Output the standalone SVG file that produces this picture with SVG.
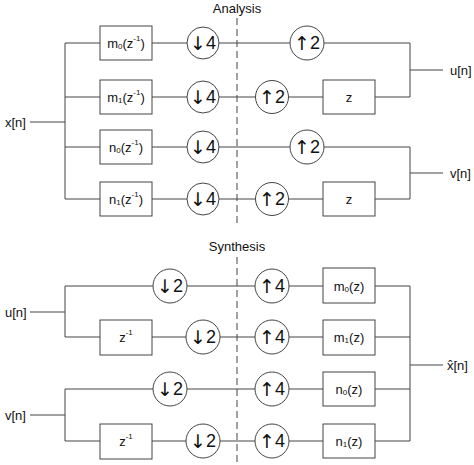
<svg xmlns="http://www.w3.org/2000/svg" width="474" height="465" viewBox="0 0 474 465">
<style>
.ln{stroke:#444;stroke-width:1;fill:none}
.dash{stroke:#444;stroke-width:1;fill:none;stroke-dasharray:7,4}
.box{stroke:#444;stroke-width:1;fill:#fff}
.cir{stroke:#444;stroke-width:1;fill:#fff}
text{font-family:"Liberation Sans","DejaVu Sans",Arial,sans-serif;fill:#111}
.lab{font-size:13px;text-anchor:middle;dominant-baseline:central}
.op{font-size:18px;text-anchor:middle;dominant-baseline:central}
.ar{font-family:"DejaVu Sans",sans-serif;font-size:19px}
.io{font-size:13px;dominant-baseline:central}
.ttl{font-size:13px;text-anchor:middle}
.s{font-size:8px}
</style>
<rect width="474" height="465" fill="#fff"/>
<g id="connectors">
<line class="dash" x1="237" y1="18" x2="237" y2="224"/>
<line class="ln" x1="30" y1="122" x2="65" y2="122"/>
<line class="ln" x1="65" y1="43" x2="65" y2="199"/>
<polyline class="ln" points="65,43 100,43"/>
<polyline class="ln" points="65,97 100,97"/>
<polyline class="ln" points="65,147 100,147"/>
<polyline class="ln" points="65,199 100,199"/>
<line class="ln" x1="152" y1="43" x2="187" y2="43"/>
<line class="ln" x1="152" y1="97" x2="187" y2="97"/>
<line class="ln" x1="152" y1="147" x2="187" y2="147"/>
<line class="ln" x1="152" y1="199" x2="187" y2="199"/>
<line class="ln" x1="219" y1="43" x2="290" y2="43"/>
<line class="ln" x1="219" y1="97" x2="255" y2="97"/>
<line class="ln" x1="219" y1="147" x2="290" y2="147"/>
<line class="ln" x1="219" y1="199" x2="255" y2="199"/>
<line class="ln" x1="288" y1="97" x2="323" y2="97"/>
<line class="ln" x1="288" y1="199" x2="323" y2="199"/>
<polyline class="ln" points="324,43 410,43 410,97 375,97"/>
<polyline class="ln" points="324,147 410,147 410,199 375,199"/>
<line class="ln" x1="410" y1="70" x2="443" y2="70"/>
<line class="ln" x1="410" y1="173" x2="443" y2="173"/>
<line class="dash" x1="237" y1="257" x2="237" y2="465"/>
<line class="ln" x1="30" y1="312" x2="65" y2="312"/>
<line class="ln" x1="30" y1="415" x2="65" y2="415"/>
<polyline class="ln" points="153,286 65,286 65,337 100,337"/>
<polyline class="ln" points="153,389 65,389 65,441 100,441"/>
<line class="ln" x1="152" y1="337" x2="186" y2="337"/>
<line class="ln" x1="152" y1="441" x2="186" y2="441"/>
<line class="ln" x1="187" y1="286" x2="255" y2="286"/>
<line class="ln" x1="220" y1="337" x2="255" y2="337"/>
<line class="ln" x1="187" y1="389" x2="255" y2="389"/>
<line class="ln" x1="220" y1="441" x2="255" y2="441"/>
<line class="ln" x1="289" y1="286" x2="323" y2="286"/>
<line class="ln" x1="289" y1="337" x2="323" y2="337"/>
<line class="ln" x1="289" y1="389" x2="323" y2="389"/>
<line class="ln" x1="289" y1="441" x2="323" y2="441"/>
<polyline class="ln" points="375,286 410,286 410,441 375,441"/>
<line class="ln" x1="375" y1="337" x2="410" y2="337"/>
<line class="ln" x1="375" y1="389" x2="410" y2="389"/>
<line class="ln" x1="410" y1="365" x2="443" y2="365"/>
</g>
<g id="titles">
<text class="ttl" x="237" y="13">Analysis</text>
<text class="ttl" x="237" y="251">Synthesis</text>
</g>
<g id="io">
<text class="io" x="5" y="122">x[n]</text>
<text class="io" x="450" y="70">u[n]</text>
<text class="io" x="450" y="173">v[n]</text>
<text class="io" x="5" y="312">u[n]</text>
<text class="io" x="5" y="415">v[n]</text>
<text class="io" x="447" y="365">x̂[n]</text>
</g>
<g id="a_m0"><rect class="box" x="100" y="26" width="52" height="34"/><text class="lab" x="126" y="43">m<tspan class="s" dy="3">0</tspan><tspan dy="-3">(z</tspan><tspan class="s" dy="-5">-1</tspan><tspan dy="5">)</tspan></text></g>
<g id="a_m1"><rect class="box" x="100" y="80" width="52" height="34"/><text class="lab" x="126" y="97">m<tspan class="s" dy="3">1</tspan><tspan dy="-3">(z</tspan><tspan class="s" dy="-5">-1</tspan><tspan dy="5">)</tspan></text></g>
<g id="a_n0"><rect class="box" x="100" y="130" width="52" height="34"/><text class="lab" x="126" y="147">n<tspan class="s" dy="3">0</tspan><tspan dy="-3">(z</tspan><tspan class="s" dy="-5">-1</tspan><tspan dy="5">)</tspan></text></g>
<g id="a_n1"><rect class="box" x="100" y="182" width="52" height="34"/><text class="lab" x="126" y="199">n<tspan class="s" dy="3">1</tspan><tspan dy="-3">(z</tspan><tspan class="s" dy="-5">-1</tspan><tspan dy="5">)</tspan></text></g>
<g id="a_d1"><circle class="cir" cx="203" cy="43" r="16"/><text class="op" x="203" y="43"><tspan class="ar">↓</tspan>4</text></g>
<g id="a_d2"><circle class="cir" cx="203" cy="97" r="16"/><text class="op" x="203" y="97"><tspan class="ar">↓</tspan>4</text></g>
<g id="a_d3"><circle class="cir" cx="203" cy="147" r="16"/><text class="op" x="203" y="147"><tspan class="ar">↓</tspan>4</text></g>
<g id="a_d4"><circle class="cir" cx="203" cy="199" r="16"/><text class="op" x="203" y="199"><tspan class="ar">↓</tspan>4</text></g>
<g id="a_u1"><circle class="cir" cx="307" cy="43" r="17"/><text class="op" x="307" y="43"><tspan class="ar">↑</tspan>2</text></g>
<g id="a_u2"><circle class="cir" cx="272" cy="97" r="16.5"/><text class="op" x="272" y="97"><tspan class="ar">↑</tspan>2</text></g>
<g id="a_u3"><circle class="cir" cx="307" cy="147" r="17"/><text class="op" x="307" y="147"><tspan class="ar">↑</tspan>2</text></g>
<g id="a_u4"><circle class="cir" cx="272" cy="199" r="16.5"/><text class="op" x="272" y="199"><tspan class="ar">↑</tspan>2</text></g>
<g id="a_z1"><rect class="box" x="323" y="80" width="52" height="34"/><text class="lab" x="349" y="97">z</text></g>
<g id="a_z2"><rect class="box" x="323" y="182" width="52" height="34"/><text class="lab" x="349" y="199">z</text></g>
<g id="s_zi1"><rect class="box" x="100" y="320" width="52" height="35"/><text class="lab" x="126" y="337">z<tspan class="s" dy="-5">-1</tspan></text></g>
<g id="s_zi2"><rect class="box" x="100" y="424" width="52" height="35"/><text class="lab" x="126" y="441">z<tspan class="s" dy="-5">-1</tspan></text></g>
<g id="s_d1"><circle class="cir" cx="170" cy="286" r="17"/><text class="op" x="170" y="286"><tspan class="ar">↓</tspan>2</text></g>
<g id="s_d2"><circle class="cir" cx="203" cy="337" r="17"/><text class="op" x="203" y="337"><tspan class="ar">↓</tspan>2</text></g>
<g id="s_d3"><circle class="cir" cx="170" cy="389" r="17"/><text class="op" x="170" y="389"><tspan class="ar">↓</tspan>2</text></g>
<g id="s_d4"><circle class="cir" cx="203" cy="441" r="17"/><text class="op" x="203" y="441"><tspan class="ar">↓</tspan>2</text></g>
<g id="s_u1"><circle class="cir" cx="272" cy="286" r="17"/><text class="op" x="272" y="286"><tspan class="ar">↑</tspan>4</text></g>
<g id="s_u2"><circle class="cir" cx="272" cy="337" r="17"/><text class="op" x="272" y="337"><tspan class="ar">↑</tspan>4</text></g>
<g id="s_u3"><circle class="cir" cx="272" cy="389" r="17"/><text class="op" x="272" y="389"><tspan class="ar">↑</tspan>4</text></g>
<g id="s_u4"><circle class="cir" cx="272" cy="441" r="17"/><text class="op" x="272" y="441"><tspan class="ar">↑</tspan>4</text></g>
<g id="s_m0"><rect class="box" x="323" y="268" width="52" height="35"/><text class="lab" x="349" y="286">m<tspan class="s" dy="3">0</tspan><tspan dy="-3">(z)</tspan></text></g>
<g id="s_m1"><rect class="box" x="323" y="320" width="52" height="35"/><text class="lab" x="349" y="337">m<tspan class="s" dy="3">1</tspan><tspan dy="-3">(z)</tspan></text></g>
<g id="s_n0"><rect class="box" x="323" y="372" width="52" height="34"/><text class="lab" x="349" y="389">n<tspan class="s" dy="3">0</tspan><tspan dy="-3">(z)</tspan></text></g>
<g id="s_n1"><rect class="box" x="323" y="424" width="52" height="34"/><text class="lab" x="349" y="441">n<tspan class="s" dy="3">1</tspan><tspan dy="-3">(z)</tspan></text></g>
</svg>
